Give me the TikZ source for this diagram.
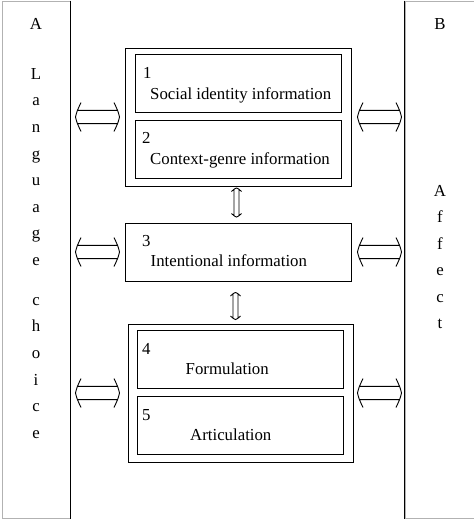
\documentclass[tikz,border=0pt]{standalone}
\usepackage{fontspec}
\setmainfont{Liberation Serif}
\usetikzlibrary{positioning,calc}

\begin{document}
\begin{tikzpicture}[x=1pt, y=-1pt, font=\fontsize{16.8}{20}\selectfont]
    % Define styles
    \tikzset{
        column/.style = {draw=gray!60, line width=1pt, inner sep=0pt},
        group box/.style = {draw, line width=1pt, inner sep=0pt},
        info box/.style = {draw, line width=1pt, minimum width=206pt, minimum height=58pt, inner sep=0pt},
        label/.style = {anchor=base west, inner sep=0pt},
        % hollow double arrow, left to right; #1, #2 = gaps at both ends
        harrow/.style 2 args = {line width=0.9pt, to path={
            let \p1=($(\tikztostart)+(#1,0pt)$), \p2=($(\tikztotarget)-(#2,0pt)$) in
            (\x1+5.5pt,\y1+14.5pt) .. controls (\x1+1.5pt,\y1+6pt) .. (\x1,\y1)
                .. controls (\x1+1.5pt,\y1-6pt) .. (\x1+5.5pt,\y1-14.5pt)
            (\x2-5.5pt,\y2+14.5pt) .. controls (\x2-1.5pt,\y2+6pt) .. (\x2,\y2)
                .. controls (\x2-1.5pt,\y2-6pt) .. (\x2-5.5pt,\y2-14.5pt)
            (\x1+2.1pt,\y1+6.6pt) -- (\x2-2.1pt,\y2+6.6pt)
            (\x1+2.1pt,\y1-6.6pt) -- (\x2-2.1pt,\y2-6.6pt)}},
        % hollow double arrow, top to bottom
        varrow/.style 2 args = {line width=0.9pt, to path={
            let \p1=($(\tikztostart)-(0pt,#1)$), \p2=($(\tikztotarget)+(0pt,#2)$) in
            (\x1-5pt,\y1-3.5pt) .. controls (\x1-2pt,\y1-0.8pt) .. (\x1,\y1)
                .. controls (\x1+2pt,\y1-0.8pt) .. (\x1+5pt,\y1-3.5pt)
            (\x2-5pt,\y2+3.5pt) .. controls (\x2-2pt,\y2+0.8pt) .. (\x2,\y2)
                .. controls (\x2+2pt,\y2+0.8pt) .. (\x2+5pt,\y2+3.5pt)
            (\x1-2.5pt,\y1-1.45pt) -- (\x2-2.5pt,\y2+1.45pt)
            (\x1+2.5pt,\y1-1.45pt) -- (\x2+2.5pt,\y2+1.45pt)}}
    }
    \useasboundingbox (0,0) rectangle (474,520);

    % Side columns
    \node[column, minimum width=68pt, minimum height=517pt] (colA) at (36,259.5) {};
    \node[column, minimum width=72pt, minimum height=517pt] (colB) at (441,259.5) {};
    \draw[line width=1pt] (colA.north east) -- (colA.south east);
    \draw[line width=1pt] (colB.north west) -- (colB.south west);

    \node[anchor=base, inner sep=0pt] (lblA) at (36,29.5) {A};
    \node[anchor=north, inner sep=0pt, align=center, font=\fontsize{16.8}{26.6}\selectfont]
        (langchoice) at (36,68) {L\\a\\n\\g\\u\\a\\g\\e\\[13.3pt]c\\h\\o\\i\\c\\e};
    \node[anchor=base, inner sep=0pt] (lblB) at (440,29.5) {B};
    \node[anchor=north, inner sep=0pt, align=center, font=\fontsize{16.8}{26.5}\selectfont]
        (affect) at (440,185) {A\\f\\f\\e\\c\\t};

    % Boxes
    \node[group box, minimum width=226pt, minimum height=138pt] (grpTop) at (238,117) {};
    \node[info box] (box1) at (238,83.5) {};
    \node[info box] (box2) at (238,149) {};
    \node[group box, minimum width=226pt, minimum height=58pt] (box3) at (238,252) {};
    \node[group box, minimum width=225pt, minimum height=138pt] (grpBot) at (240.5,393) {};
    \node[info box] (box4) at (240,359) {};
    \node[info box] (box5) at (240,425) {};

    % Labels
    \node[label] (num1) at (143,78) {1};
    \node[label] (txt1) at (150,99) {Social identity information};
    \node[label] (num2) at (142,143.5) {2};
    \node[label] (txt2) at (150,164) {Context-genre information};
    \node[label] (num3) at (142,246) {3};
    \node[label] (txt3) at (150.5,266.5) {Intentional information};
    \node[label] (num4) at (142,354) {4};
    \node[label] (txt4) at (185.5,374) {Formulation};
    \node[label] (num5) at (142,420) {5};
    \node[label] (txt5) at (190,440) {Articulation};

    % Horizontal arrows
    \draw[harrow={5pt}{5pt}] (colA.east |- grpTop.west) to (grpTop.west);
    \draw[harrow={5pt}{5pt}] (colA.east |- box3.west) to (box3.west);
    \draw[harrow={5pt}{8pt}] (colA.east |- grpBot.west) to (grpBot.west);
    \draw[harrow={6pt}{3pt}] (grpTop.east) to (colB.west |- grpTop.east);
    \draw[harrow={6pt}{3pt}] (box3.east) to (colB.west |- box3.east);
    \draw[harrow={4pt}{3pt}] (grpBot.east) to (colB.west |- grpBot.east);

    % Vertical arrows
    \draw[varrow={1.5pt}{5.5pt}] ([xshift=-1.5pt]grpTop.south) to ([xshift=-1.5pt]box3.north);
    \draw[varrow={11pt}{4pt}] ([xshift=-2.5pt]box3.south) to ([xshift=-2.5pt]box3.south |- grpBot.north);
\end{tikzpicture}
\end{document}
